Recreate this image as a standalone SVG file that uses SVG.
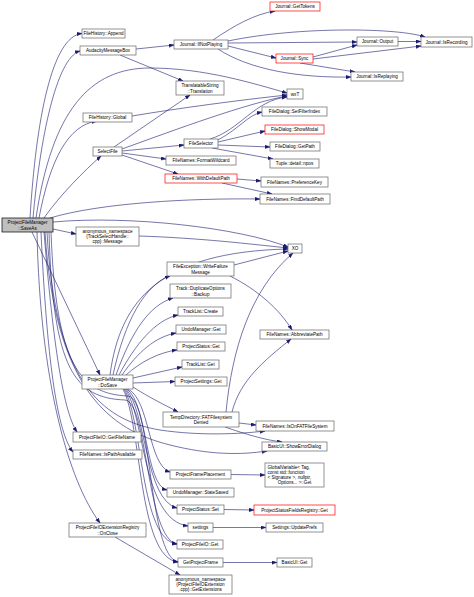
<svg xmlns="http://www.w3.org/2000/svg" width="474" height="597" viewBox="0 0 474 597">
<style>
.n rect{fill:#ffffff;stroke:#666666;stroke-width:0.7}
.n.r rect{stroke:#ff0000}
.n.root rect{fill:#bfbfbf;stroke:#000000}
.n text{font-family:"Liberation Sans",Arial,sans-serif;font-size:4.6px;text-anchor:middle;fill:#000000}
#edges path{fill:none;stroke:#191970;stroke-width:0.6;marker-end:url(#a)}
</style>
<defs>
<marker id="a" markerUnits="userSpaceOnUse" markerWidth="6" markerHeight="4" refX="5" refY="1.8" orient="auto">
<path d="M0,0 L5,1.8 L0,3.6 z" fill="#191970" stroke="#191970" stroke-width="0.4"/>
</marker>
</defs>
<rect width="474" height="597" fill="#ffffff"/>
<g id="edges">
<path d="M30,218 C36,120 52,36 82,33.5"/>
<path d="M33,218 C40,140 56,58 80,51"/>
<path d="M36,218 C52,110 90,68 150,68 C205,68 255,84 287,93"/>
<path d="M39,218 C50,160 68,125 97,121"/>
<path d="M44,218 C60,195 85,170 101,156"/>
<path d="M50,218 C100,203 190,198 260,199"/>
<path d="M53,222 C130,215 240,228 288,247"/>
<path d="M53,229 L76,234"/>
<path d="M32,232 L100,375"/>
<path d="M44,232 C52,330 62,410 77,432"/>
<path d="M41,232 C46,340 55,430 73,452"/>
<path d="M37,232 C40,380 68,480 100,523"/>
<path d="M47,232 C55,380 100,420 160,430 C200,436 240,434 265,431"/>
<path d="M45,232 C55,390 110,430 170,445 C210,455 240,455 267,451"/>
<path d="M49,232 C53,370 75,398 125,400 C148,402 146,538 177,544"/>
<path d="M51,232 C56,365 80,394 128,396 C152,398 148,556 178,562"/>
<path d="M110,375 C120,300 160,252 288,249"/>
<path d="M113,375 C125,320 145,285 170,276"/>
<path d="M116,375 C132,330 150,305 173,298"/>
<path d="M119,375 C135,345 155,320 178,315"/>
<path d="M122,375 C138,352 155,337 176,333"/>
<path d="M126,375 C140,362 160,352 177,350"/>
<path d="M133,378 L182,367"/>
<path d="M133,383 L175,381.5"/>
<path d="M133,387 C150,398 165,405 178,412"/>
<path d="M128,389 C150,400 148,465 170,472"/>
<path d="M127,389 C148,405 145,485 167,490"/>
<path d="M126,389 C146,410 145,500 177,508"/>
<path d="M125,389 C145,415 142,520 188,526"/>
<path d="M124,389 C143,420 140,540 177,544"/>
<path d="M123,389 C142,425 138,558 178,562"/>
<path d="M226,412 C232,350 250,290 293,253"/>
<path d="M232,412 C240,380 265,360 291,339"/>
<path d="M234,265 L288,251"/>
<path d="M230,276 C258,290 280,310 292,330"/>
<path d="M239,423 L256,425"/>
<path d="M225,427 C245,434 265,440 282,442"/>
<path d="M231,474.5 L265,475"/>
<path d="M224,509.5 L254,510"/>
<path d="M213,527.5 L266,527.5"/>
<path d="M223,562.5 L277,562.5"/>
<path d="M115,537 L180,575"/>
<path d="M136,49 L174,45"/>
<path d="M120,55 L183,81"/>
<path d="M132,116 C180,108 240,100 287,95"/>
<path d="M114,147 L190,95"/>
<path d="M122,149 C180,128 245,104 287,96"/>
<path d="M122,151 L184,145"/>
<path d="M122,153 L166,159"/>
<path d="M122,155 L178,174"/>
<path d="M210,139 C240,130 255,100 287,97"/>
<path d="M218,140 C240,128 248,115 262,112"/>
<path d="M218,142 L265,131"/>
<path d="M218,145 L270,147"/>
<path d="M212,148 L273,159"/>
<path d="M237,179 L261,181"/>
<path d="M222,183 L272,194"/>
<path d="M213,40 C235,25 255,14 275,11"/>
<path d="M228,43 L357,42"/>
<path d="M228,41 C300,26 400,28 425,37"/>
<path d="M228,46 L276,58"/>
<path d="M218,49 C250,70 300,78 351,77"/>
<path d="M313,57 L357,45"/>
<path d="M313,59 L421,46"/>
<path d="M300,63 L355,72"/>
<path d="M398,41.5 L421,41.5"/>
<path d="M139,236 C200,238 250,244 288,248"/>
</g>
<g id="n_saveas" class="n root"><rect x="2" y="218" width="51" height="14"/><text x="27.5" y="224.1">ProjectFileManager</text><text x="27.5" y="229.6">::SaveAs</text></g>
<g id="n_append" class="n"><rect x="82" y="29" width="43" height="9"/><text x="103.5" y="35.1">FileHistory::Append</text></g>
<g id="n_amb" class="n"><rect x="80" y="46" width="56" height="9"/><text x="108" y="52.1">AudacityMessageBox</text></g>
<g id="n_ifnot" class="n"><rect x="174" y="40" width="54" height="9"/><text x="201" y="46.1">Journal::IfNotPlaying</text></g>
<g id="n_tokens" class="n r"><rect x="270" y="2" width="50" height="9"/><text x="295" y="8.1">Journal::GetTokens</text></g>
<g id="n_output" class="n"><rect x="357" y="37" width="41" height="9"/><text x="377.5" y="43.1">Journal::Output</text></g>
<g id="n_isrec" class="n"><rect x="421" y="37" width="51" height="10"/><text x="446.5" y="43.6">Journal::IsRecording</text></g>
<g id="n_sync" class="n r"><rect x="276" y="54" width="37" height="9"/><text x="294.5" y="60.1">Journal::Sync</text></g>
<g id="n_isrep" class="n"><rect x="351" y="72" width="52" height="9"/><text x="377" y="78.1">Journal::IsReplaying</text></g>
<g id="n_transl" class="n"><rect x="176" y="81" width="48" height="14"/><text x="200" y="87.1">TranslatableString</text><text x="200" y="92.6">::Translation</text></g>
<g id="n_wxt" class="n"><rect x="287" y="89" width="16" height="10"/><text x="295" y="95.6">wxT</text></g>
<g id="n_fhglobal" class="n"><rect x="83" y="113" width="49" height="9"/><text x="107.5" y="119.1">FileHistory::Global</text></g>
<g id="n_selectfile" class="n"><rect x="93" y="147" width="29" height="9"/><text x="107.5" y="153.1">SelectFile</text></g>
<g id="n_fileselector" class="n"><rect x="184" y="139" width="34" height="9"/><text x="201" y="145.1">FileSelector</text></g>
<g id="n_setfilter" class="n"><rect x="262" y="107" width="65" height="9"/><text x="294.5" y="113.1">FileDialog::SetFilterIndex</text></g>
<g id="n_showmodal" class="n r"><rect x="265" y="125" width="59" height="9"/><text x="294.5" y="131.1">FileDialog::ShowModal</text></g>
<g id="n_getpath" class="n"><rect x="270" y="142" width="50" height="9"/><text x="295" y="148.1">FileDialog::GetPath</text></g>
<g id="n_npos" class="n"><rect x="270" y="159" width="49" height="9"/><text x="294.5" y="165.1">Tuple::detail::npos</text></g>
<g id="n_wildcard" class="n"><rect x="166" y="156" width="70" height="9"/><text x="201" y="162.1">FileNames::FormatWildcard</text></g>
<g id="n_withdef" class="n r"><rect x="165" y="174" width="72" height="9"/><text x="201" y="180.1">FileNames::WithDefaultPath</text></g>
<g id="n_prefkey" class="n"><rect x="261" y="177" width="67" height="10"/><text x="294.5" y="183.6">FileNames::PreferenceKey</text></g>
<g id="n_finddef" class="n"><rect x="260" y="194" width="70" height="10"/><text x="295" y="200.6">FileNames::FindDefaultPath</text></g>
<g id="n_message" class="n"><rect x="76" y="227" width="63" height="19"/><text x="107.5" y="233.1">anonymous_namespace</text><text x="107.5" y="238.1">{TrackSelectHandle::</text><text x="107.5" y="243.1">cpp}::Message</text></g>
<g id="n_xo" class="n"><rect x="288" y="244" width="14" height="9"/><text x="295" y="250.1">XO</text></g>
<g id="n_writefail" class="n"><rect x="167" y="262" width="67" height="14"/><text x="200.5" y="268.1">FileException::WriteFailure</text><text x="200.5" y="273.6">Message</text></g>
<g id="n_backup" class="n"><rect x="170" y="284" width="61" height="14"/><text x="200.5" y="290.1">Track::DuplicateOptions</text><text x="200.5" y="295.6">::Backup</text></g>
<g id="n_tlcreate" class="n"><rect x="178" y="307" width="45" height="9"/><text x="200.5" y="313.1">TrackList::Create</text></g>
<g id="n_umget" class="n"><rect x="176" y="325" width="50" height="9"/><text x="201" y="331.1">UndoManager::Get</text></g>
<g id="n_psget" class="n"><rect x="177" y="342" width="48" height="9"/><text x="201" y="348.1">ProjectStatus::Get</text></g>
<g id="n_tlget" class="n"><rect x="182" y="360" width="37" height="9"/><text x="200.5" y="366.1">TrackList::Get</text></g>
<g id="n_psetget" class="n"><rect x="175" y="377" width="52" height="9"/><text x="201" y="383.1">ProjectSettings::Get</text></g>
<g id="n_dosave" class="n"><rect x="82" y="375" width="51" height="14"/><text x="107.5" y="381.1">ProjectFileManager</text><text x="107.5" y="386.6">::DoSave</text></g>
<g id="n_abbrev" class="n"><rect x="260" y="330" width="69" height="9"/><text x="294.5" y="336.1">FileNames::AbbreviatePath</text></g>
<g id="n_tempdir" class="n"><rect x="163" y="412" width="76" height="15"/><text x="201" y="418.6">TempDirectory::FATFilesystem</text><text x="201" y="424.1">Denied</text></g>
<g id="n_isonfat" class="n"><rect x="256" y="421" width="78" height="10"/><text x="295" y="427.6">FileNames::IsOnFATFileSystem</text></g>
<g id="n_showerr" class="n"><rect x="262" y="442" width="65" height="9"/><text x="294.5" y="448.1">BasicUI::ShowErrorDialog</text></g>
<g id="n_getfilename" class="n"><rect x="73" y="432" width="68" height="10"/><text x="107" y="438.6">ProjectFileIO::GetFileName</text></g>
<g id="n_ispathavail" class="n"><rect x="73" y="450" width="69" height="9"/><text x="107.5" y="456.1">FileNames::IsPathAvailable</text></g>
<g id="n_frameplace" class="n"><rect x="170" y="470" width="61" height="9"/><text x="200.5" y="476.1">ProjectFramePlacement</text></g>
<g id="n_globalvar" class="n"><rect x="265" y="463" width="59" height="24"/><text x="267.5" y="469.1" style="text-anchor:start">GlobalVariable&lt; Tag,</text><text x="267.5" y="474.1" style="text-anchor:start">const std::function</text><text x="267.5" y="479.1" style="text-anchor:start">&lt; Signature &gt;, nullptr,</text><text x="294.5" y="484.1">Options... &gt;::Get</text></g>
<g id="n_statesaved" class="n"><rect x="167" y="488" width="67" height="9"/><text x="200.5" y="494.1">UndoManager::StateSaved</text></g>
<g id="n_psset" class="n"><rect x="177" y="505" width="47" height="9"/><text x="200.5" y="511.1">ProjectStatus::Set</text></g>
<g id="n_psfrget" class="n r"><rect x="254" y="505" width="81" height="10"/><text x="294.5" y="511.6">ProjectStatusFieldsRegistry::Get</text></g>
<g id="n_settings" class="n"><rect x="188" y="523" width="25" height="9"/><text x="200.5" y="529.1">settings</text></g>
<g id="n_updateprefs" class="n"><rect x="266" y="523" width="57" height="9"/><text x="294.5" y="529.1">Settings::UpdatePrefs</text></g>
<g id="n_onclose" class="n"><rect x="69" y="523" width="77" height="14"/><text x="107.5" y="529.1">ProjectFileIOExtensionRegistry</text><text x="107.5" y="534.6">::OnClose</text></g>
<g id="n_pfioget" class="n"><rect x="177" y="540" width="46" height="9"/><text x="200" y="546.1">ProjectFileIO::Get</text></g>
<g id="n_getframe" class="n"><rect x="178" y="558" width="45" height="9"/><text x="200.5" y="564.1">GetProjectFrame</text></g>
<g id="n_basicuiget" class="n"><rect x="277" y="558" width="35" height="9"/><text x="294.5" y="564.1">BasicUI::Get</text></g>
<g id="n_getext" class="n"><rect x="169" y="575" width="63" height="19"/><text x="200.5" y="581.1">anonymous_namespace</text><text x="200.5" y="586.1">{ProjectFileIOExtension</text><text x="200.5" y="591.1">.cpp}::GetExtensions</text></g>
</svg>
